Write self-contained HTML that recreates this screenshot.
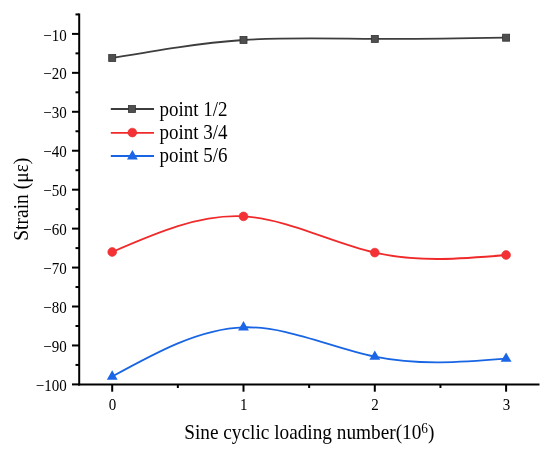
<!DOCTYPE html>
<html><head><meta charset="utf-8"><style>
html,body{margin:0;padding:0;background:#fff;width:550px;height:454px;overflow:hidden}
svg{display:block}
</style></head><body>
<svg width="550" height="454" viewBox="0 0 550 454">
<rect width="550" height="454" fill="#ffffff"/>
<path d="M112.20 58.00 C155.97 50.50 199.73 42.99 243.50 40.00 C287.27 37.01 331.03 38.53 374.80 38.90 C418.57 39.27 462.33 38.48 506.10 37.70" fill="none" stroke="#3d3d3d" stroke-width="1.80"/>
<path d="M112.20 252.00 C155.97 233.00 199.73 214.00 243.50 216.40 C287.27 218.80 331.03 242.60 374.80 252.60 C418.57 262.60 462.33 258.80 506.10 255.00" fill="none" stroke="#f02a2a" stroke-width="1.80"/>
<path d="M112.20 376.50 C155.97 352.50 199.73 328.51 243.50 327.30 C287.27 326.09 331.03 347.67 374.80 356.70 C418.57 365.73 462.33 362.22 506.10 358.70" fill="none" stroke="#1865e4" stroke-width="1.80"/>
<rect x="108.70" y="54.50" width="7.00" height="7.00" fill="#4f4f4f" stroke="#333333" stroke-width="0.8"/>
<rect x="240.00" y="36.50" width="7.00" height="7.00" fill="#4f4f4f" stroke="#333333" stroke-width="0.8"/>
<rect x="371.30" y="35.40" width="7.00" height="7.00" fill="#4f4f4f" stroke="#333333" stroke-width="0.8"/>
<rect x="502.60" y="34.20" width="7.00" height="7.00" fill="#4f4f4f" stroke="#333333" stroke-width="0.8"/>
<circle cx="112.20" cy="252.00" r="4.40" fill="#f43236" stroke="#e82a2a" stroke-width="0.6"/>
<circle cx="243.50" cy="216.40" r="4.40" fill="#f43236" stroke="#e82a2a" stroke-width="0.6"/>
<circle cx="374.80" cy="252.60" r="4.40" fill="#f43236" stroke="#e82a2a" stroke-width="0.6"/>
<circle cx="506.10" cy="255.00" r="4.40" fill="#f43236" stroke="#e82a2a" stroke-width="0.6"/>
<polygon points="112.20,370.23 106.80,379.63 117.60,379.63" fill="#1a66e6"/>
<polygon points="243.50,321.03 238.10,330.43 248.90,330.43" fill="#1a66e6"/>
<polygon points="374.80,350.43 369.40,359.83 380.20,359.83" fill="#1a66e6"/>
<polygon points="506.10,352.43 500.70,361.83 511.50,361.83" fill="#1a66e6"/>
<g stroke="#000" stroke-width="2.00" fill="none">
<line x1="79.20" y1="13.60" x2="79.20" y2="385.40"/>
<line x1="78.20" y1="384.40" x2="539.50" y2="384.40"/>
<line x1="75.50" y1="14.43" x2="79.20" y2="14.43"/>
<line x1="72.00" y1="33.90" x2="79.20" y2="33.90"/>
<line x1="75.50" y1="53.37" x2="79.20" y2="53.37"/>
<line x1="72.00" y1="72.84" x2="79.20" y2="72.84"/>
<line x1="75.50" y1="92.32" x2="79.20" y2="92.32"/>
<line x1="72.00" y1="111.79" x2="79.20" y2="111.79"/>
<line x1="75.50" y1="131.26" x2="79.20" y2="131.26"/>
<line x1="72.00" y1="150.73" x2="79.20" y2="150.73"/>
<line x1="75.50" y1="170.21" x2="79.20" y2="170.21"/>
<line x1="72.00" y1="189.68" x2="79.20" y2="189.68"/>
<line x1="75.50" y1="209.15" x2="79.20" y2="209.15"/>
<line x1="72.00" y1="228.62" x2="79.20" y2="228.62"/>
<line x1="75.50" y1="248.09" x2="79.20" y2="248.09"/>
<line x1="72.00" y1="267.57" x2="79.20" y2="267.57"/>
<line x1="75.50" y1="287.04" x2="79.20" y2="287.04"/>
<line x1="72.00" y1="306.51" x2="79.20" y2="306.51"/>
<line x1="75.50" y1="325.98" x2="79.20" y2="325.98"/>
<line x1="72.00" y1="345.46" x2="79.20" y2="345.46"/>
<line x1="75.50" y1="364.93" x2="79.20" y2="364.93"/>
<line x1="72.00" y1="384.40" x2="79.20" y2="384.40"/>
<line x1="112.20" y1="384.40" x2="112.20" y2="391.70"/>
<line x1="177.85" y1="384.40" x2="177.85" y2="388.00"/>
<line x1="243.50" y1="384.40" x2="243.50" y2="391.70"/>
<line x1="309.15" y1="384.40" x2="309.15" y2="388.00"/>
<line x1="374.80" y1="384.40" x2="374.80" y2="391.70"/>
<line x1="440.45" y1="384.40" x2="440.45" y2="388.00"/>
<line x1="506.10" y1="384.40" x2="506.10" y2="391.70"/>
</g>
<g font-family='"Liberation Serif", "Times New Roman", serif' font-size="15" fill="#000" text-anchor="end">
<text transform="translate(66.8,40.50) scale(1,1.08)">−10</text>
<text transform="translate(66.8,79.44) scale(1,1.08)">−20</text>
<text transform="translate(66.8,118.39) scale(1,1.08)">−30</text>
<text transform="translate(66.8,157.33) scale(1,1.08)">−40</text>
<text transform="translate(66.8,196.28) scale(1,1.08)">−50</text>
<text transform="translate(66.8,235.22) scale(1,1.08)">−60</text>
<text transform="translate(66.8,274.17) scale(1,1.08)">−70</text>
<text transform="translate(66.8,313.11) scale(1,1.08)">−80</text>
<text transform="translate(66.8,352.06) scale(1,1.08)">−90</text>
<text transform="translate(66.8,391.00) scale(1,1.08)">−100</text>
</g>
<g font-family='"Liberation Serif", "Times New Roman", serif' font-size="15" fill="#000" text-anchor="middle">
<text transform="translate(112.50,409.8) scale(1,1.09)">0</text>
<text transform="translate(243.80,409.8) scale(1,1.09)">1</text>
<text transform="translate(375.10,409.8) scale(1,1.09)">2</text>
<text transform="translate(506.40,409.8) scale(1,1.09)">3</text>
</g>
<text transform="translate(184.2,438.7) scale(1,1.05)" font-family='"Liberation Serif", "Times New Roman", serif' font-size="19.3" fill="#000">Sine cyclic loading number(10<tspan font-size="13.3" dy="-5.6">6</tspan><tspan dy="5.6">)</tspan></text>
<text transform="translate(28.2,199.2) rotate(-90) scale(1,1.05)" font-family='"Liberation Serif", "Times New Roman", serif' font-size="19.5" text-anchor="middle" fill="#000">Strain (με)</text>
<line x1="110.8" y1="109.00" x2="154.0" y2="109.00" stroke="#3d3d3d" stroke-width="1.80"/>
<rect x="128.45" y="105.50" width="7.00" height="7.00" fill="#4f4f4f" stroke="#333333" stroke-width="0.8"/>
<text transform="translate(159.4,115.60) scale(1,1.06)" font-family='"Liberation Serif", "Times New Roman", serif' font-size="19" fill="#000">point 1/2</text>
<line x1="110.8" y1="132.80" x2="154.0" y2="132.80" stroke="#f02a2a" stroke-width="1.80"/>
<circle cx="132.30" cy="132.55" r="4.40" fill="#f43236" stroke="#e82a2a" stroke-width="0.6"/>
<text transform="translate(159.4,139.30) scale(1,1.06)" font-family='"Liberation Serif", "Times New Roman", serif' font-size="19" fill="#000">point 3/4</text>
<line x1="110.8" y1="156.00" x2="154.0" y2="156.00" stroke="#1865e4" stroke-width="1.80"/>
<polygon points="132.40,150.03 127.00,159.43 137.80,159.43" fill="#1a66e6"/>
<text transform="translate(159.4,162.40) scale(1,1.06)" font-family='"Liberation Serif", "Times New Roman", serif' font-size="19" fill="#000">point 5/6</text>
</svg>
</body></html>
